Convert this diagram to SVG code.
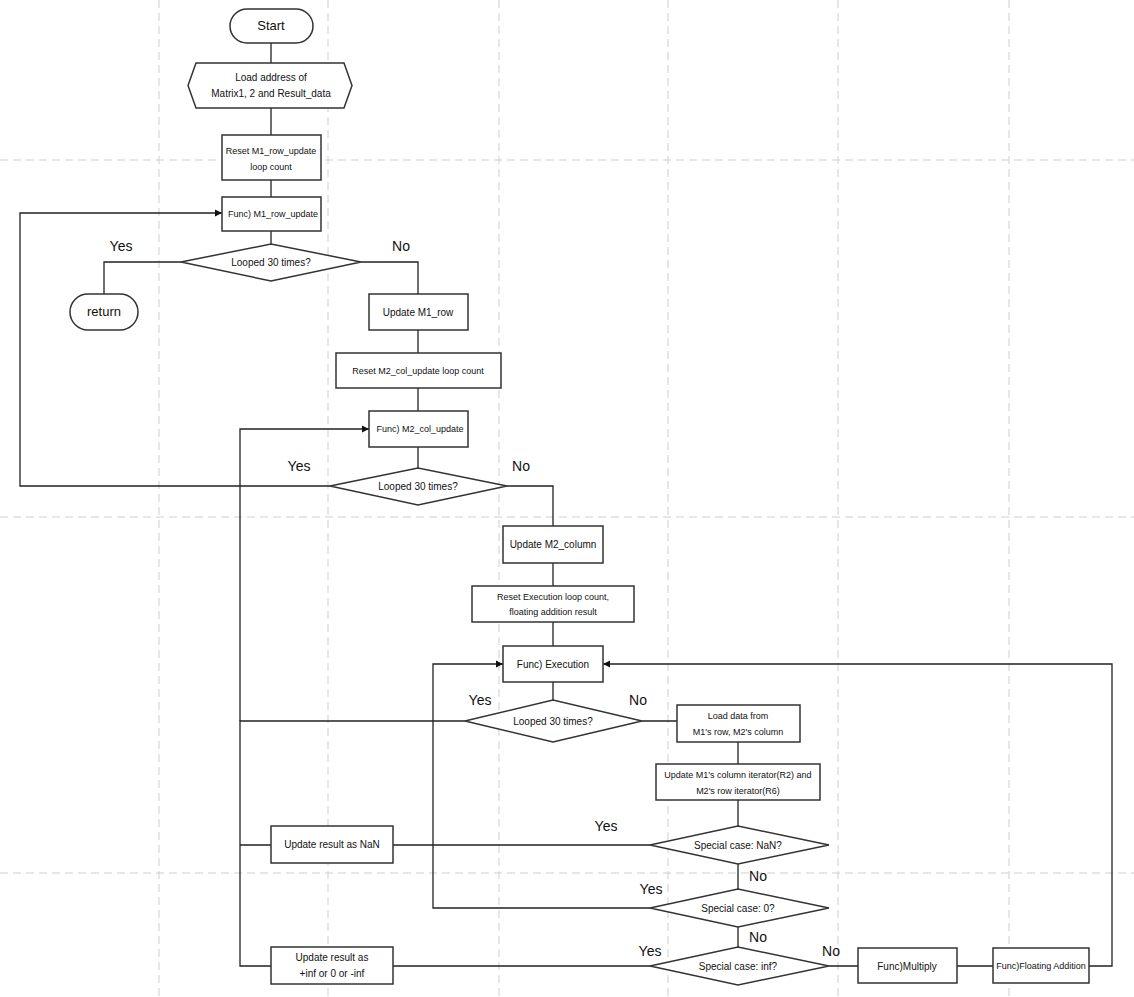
<svg xmlns="http://www.w3.org/2000/svg" width="1134" height="997" viewBox="0 0 1134 997">
<style>
.g{stroke:#cfcfcf;stroke-width:1;stroke-dasharray:8,5;fill:none}
.n{fill:#fff;stroke:#333;stroke-width:1.5}
.c{fill:none;stroke:#222;stroke-width:1.3}
text{font-family:"Liberation Sans",Arial,sans-serif;font-size:10px;fill:#111;text-anchor:middle}
.s{font-size:9px}
.l{font-size:14px}
</style>
<defs><marker id="a" markerWidth="8" markerHeight="8" refX="7" refY="4" orient="auto" markerUnits="userSpaceOnUse"><path d="M0,0.5 L7,4 L0,7.5Z" fill="#111"/></marker></defs>
<rect width="1134" height="997" fill="#fff"/>
<g id="grid">
<path class="g" d="M159,0V997M328,0V997M499,0V997M668,0V997M838,0V997M1009,0V997M0,160H1134M0,517H1134M0,873H1134"/>
</g>
<g id="connectors">
<path class="c" d="M271,43V63M271,108V135M271,180V197M271,231V244"/>
<path class="c" d="M181,262H104V294M361,262H418V294M418,330V353M418,388V411M418,447V468"/>
<path class="c" d="M330,486H20V213H222" marker-end="url(#a)"/>
<path class="c" d="M507,486H553V526M553,563V586M553,622V646M553,682V700"/>
<path class="c" d="M465,721H240V966H271M240,845H271"/>
<path class="c" d="M240,721V429H369" marker-end="url(#a)"/>
<path class="c" d="M642,721H677M738,742V764M738,800V826M393,845H650M738,864V889M738,927V947"/>
<path class="c" d="M650,908H433V664H503" marker-end="url(#a)"/>
<path class="c" d="M393,966H650M829,966H858M957,966H993"/>
<path class="c" d="M1089,966H1112V664H603" marker-end="url(#a)"/>
</g>
<g id="start"><rect class="n" x="230" y="9" width="83" height="34" rx="17"/><text x="271" y="30" style="font-size:13px">Start</text></g>
<g id="load"><path class="n" d="M196,63H344L352,85.5L344,108H196L188,85.5Z"/><text x="271" y="81">Load address of</text><text x="271" y="97">Matrix1, 2 and Result_data</text></g>
<g id="reset1"><rect class="n" x="222" y="135" width="99" height="45"/><text class="s" x="271" y="154">Reset M1_row_update</text><text class="s" x="271" y="170">loop count</text></g>
<g id="func1"><rect class="n" x="222" y="197" width="99" height="34"/><text class="s" x="273" y="217">Func) M1_row_update</text></g>
<g id="d1"><path class="n" d="M181,262L271,244L361,262L271,281Z"/><text x="271" y="266">Looped 30 times?</text></g>
<g id="ret"><rect class="n" x="70" y="294" width="68" height="36" rx="18"/><text x="104" y="316" style="font-size:13px">return</text></g>
<g id="upd1"><rect class="n" x="369" y="294" width="99" height="36"/><text x="418" y="316">Update M1_row</text></g>
<g id="reset2"><rect class="n" x="336" y="353" width="165" height="35"/><text class="s" x="418" y="374">Reset M2_col_update loop count</text></g>
<g id="func2"><rect class="n" x="369" y="411" width="99" height="36"/><text class="s" x="420" y="432">Func) M2_col_update</text></g>
<g id="d2"><path class="n" d="M330,486L418,468L507,486L418,505Z"/><text x="418" y="490">Looped 30 times?</text></g>
<g id="upd2"><rect class="n" x="503" y="526" width="100" height="37"/><text x="553" y="548">Update M2_column</text></g>
<g id="reset3"><rect class="n" x="472" y="586" width="162" height="36"/><text class="s" x="553" y="600">Reset Execution loop count,</text><text class="s" x="553" y="615">floating addition result</text></g>
<g id="func3"><rect class="n" x="503" y="646" width="100" height="36"/><text x="553" y="668">Func) Execution</text></g>
<g id="d3"><path class="n" d="M465,721L553,700L642,721L553,742Z"/><text x="553" y="725">Looped 30 times?</text></g>
<g id="loaddata"><rect class="n" x="677" y="705" width="123" height="37"/><text class="s" x="738" y="719">Load data from</text><text class="s" x="738" y="735">M1's row, M2's column</text></g>
<g id="updit"><rect class="n" x="656" y="764" width="164" height="36"/><text class="s" x="738" y="778">Update M1's column iterator(R2) and</text><text class="s" x="738" y="794">M2's row iterator(R6)</text></g>
<g id="dnan"><path class="n" d="M650,845L738,826L829,845L738,864Z"/><text x="738" y="849">Special case: NaN?</text></g>
<g id="updnan"><rect class="n" x="271" y="826" width="122" height="37"/><text x="332" y="848">Update result as NaN</text></g>
<g id="d0"><path class="n" d="M650,908L738,889L829,908L738,927Z"/><text x="738" y="912">Special case: 0?</text></g>
<g id="dinf"><path class="n" d="M650,966L738,947L829,966L738,985Z"/><text x="738" y="970">Special case: inf?</text></g>
<g id="updinf"><rect class="n" x="271" y="947" width="122" height="37"/><text x="332" y="961">Update result as</text><text x="332" y="977">+inf or 0 or -inf</text></g>
<g id="mul"><rect class="n" x="858" y="948" width="99" height="35"/><text x="907" y="970">Func)Multiply</text></g>
<g id="fadd"><rect class="n" x="993" y="948" width="96" height="35"/><text class="s" x="1041" y="969">Func)Floating Addition</text></g>
<g id="labels">
<text class="l" x="121" y="251">Yes</text><text class="l" x="401" y="251">No</text>
<text class="l" x="299" y="471">Yes</text><text class="l" x="521" y="471">No</text>
<text class="l" x="480" y="705">Yes</text><text class="l" x="638" y="705">No</text>
<text class="l" x="606" y="831">Yes</text><text class="l" x="758" y="881">No</text>
<text class="l" x="651" y="894">Yes</text><text class="l" x="758" y="942">No</text>
<text class="l" x="650" y="956">Yes</text><text class="l" x="831" y="956">No</text>
</g>
</svg>
